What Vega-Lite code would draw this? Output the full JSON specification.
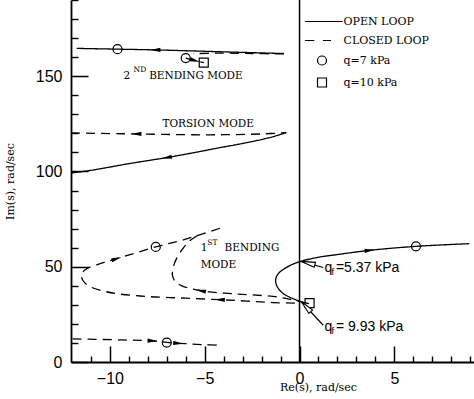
{
  "$schema": "https://vega.github.io/schema/vega-lite/v6.json",
  "width": 403,
  "height": 362,
  "autosize": {"type": "none"},
  "padding": {"left": 71, "top": 0, "right": 0, "bottom": 37},
  "background": "white",
  "config": {
    "view": {"stroke": null},
    "axis": {"grid": false, "ticks": true, "tickOpacity": 1, "tickDash": []}
  },
  "resolve": {"axis": {"x": "independent", "y": "independent"}},
  "datasets": {
    "curves": [
      {"curve": "b2_open", "loop": "OPEN LOOP", "i": 0, "re": -0.83, "im": 161.9},
      {"curve": "b2_open", "loop": "OPEN LOOP", "i": 1, "re": -3.0, "im": 162.5},
      {"curve": "b2_open", "loop": "OPEN LOOP", "i": 2, "re": -5.4, "im": 163.2},
      {"curve": "b2_open", "loop": "OPEN LOOP", "i": 3, "re": -7.6, "im": 163.8},
      {"curve": "b2_open", "loop": "OPEN LOOP", "i": 4, "re": -9.6, "im": 164.2},
      {"curve": "b2_open", "loop": "OPEN LOOP", "i": 5, "re": -11.75, "im": 164.6},

      {"curve": "b2_closed", "loop": "CLOSED LOOP", "i": 0, "re": -0.83, "im": 161.7},
      {"curve": "b2_closed", "loop": "CLOSED LOOP", "i": 1, "re": -2.5, "im": 161.9},
      {"curve": "b2_closed", "loop": "CLOSED LOOP", "i": 2, "re": -4.5, "im": 162.1},
      {"curve": "b2_closed", "loop": "CLOSED LOOP", "i": 3, "re": -5.6, "im": 161.8},
      {"curve": "b2_closed_end", "loop": "CLOSED LOOP", "i": 0, "re": -6.0, "im": 159.5},
      {"curve": "b2_closed_end", "loop": "CLOSED LOOP", "i": 1, "re": -5.05, "im": 157.1},

      {"curve": "tor_closed", "loop": "CLOSED LOOP", "i": 0, "re": -12.05, "im": 120.2},
      {"curve": "tor_closed", "loop": "CLOSED LOOP", "i": 1, "re": -10.0, "im": 119.9},
      {"curve": "tor_closed", "loop": "CLOSED LOOP", "i": 2, "re": -8.6, "im": 119.7},
      {"curve": "tor_closed", "loop": "CLOSED LOOP", "i": 3, "re": -6.0, "im": 119.3},
      {"curve": "tor_closed", "loop": "CLOSED LOOP", "i": 4, "re": -4.0, "im": 119.3},
      {"curve": "tor_closed", "loop": "CLOSED LOOP", "i": 5, "re": -2.0, "im": 119.7},
      {"curve": "tor_closed", "loop": "CLOSED LOOP", "i": 6, "re": -0.7, "im": 120.4},

      {"curve": "tor_open", "loop": "OPEN LOOP", "i": 0, "re": -12.05, "im": 99.2},
      {"curve": "tor_open", "loop": "OPEN LOOP", "i": 1, "re": -11.0, "im": 100.6},
      {"curve": "tor_open", "loop": "OPEN LOOP", "i": 2, "re": -9.0, "im": 104.1},
      {"curve": "tor_open", "loop": "OPEN LOOP", "i": 3, "re": -7.0, "im": 107.3},
      {"curve": "tor_open", "loop": "OPEN LOOP", "i": 4, "re": -5.5, "im": 110.0},
      {"curve": "tor_open", "loop": "OPEN LOOP", "i": 5, "re": -4.2, "im": 112.5},
      {"curve": "tor_open", "loop": "OPEN LOOP", "i": 6, "re": -2.9, "im": 114.9},
      {"curve": "tor_open", "loop": "OPEN LOOP", "i": 7, "re": -1.53, "im": 117.9},
      {"curve": "tor_open", "loop": "OPEN LOOP", "i": 8, "re": -0.7, "im": 120.4},

      {"curve": "b1_closed_a", "loop": "CLOSED LOOP", "i": 0, "re": -4.2, "im": 70.2},
      {"curve": "b1_closed_a", "loop": "CLOSED LOOP", "i": 1, "re": -5.96, "im": 64.6},
      {"curve": "b1_closed_a", "loop": "CLOSED LOOP", "i": 2, "re": -7.58, "im": 60.4},
      {"curve": "b1_closed_a", "loop": "CLOSED LOOP", "i": 3, "re": -9.65, "im": 54.2},
      {"curve": "b1_closed_a", "loop": "CLOSED LOOP", "i": 4, "re": -10.7, "im": 51.0},
      {"curve": "b1_closed_a", "loop": "CLOSED LOOP", "i": 5, "re": -11.25, "im": 48.8},
      {"curve": "b1_closed_a", "loop": "CLOSED LOOP", "i": 6, "re": -11.5, "im": 45.8},
      {"curve": "b1_closed_a", "loop": "CLOSED LOOP", "i": 7, "re": -11.4, "im": 42.5},
      {"curve": "b1_closed_a", "loop": "CLOSED LOOP", "i": 8, "re": -11.1, "im": 39.8},
      {"curve": "b1_closed_a", "loop": "CLOSED LOOP", "i": 9, "re": -10.4, "im": 37.4},
      {"curve": "b1_closed_a", "loop": "CLOSED LOOP", "i": 10, "re": -9.6, "im": 35.8},
      {"curve": "b1_closed_a", "loop": "CLOSED LOOP", "i": 11, "re": -7.9, "im": 34.3},
      {"curve": "b1_closed_a", "loop": "CLOSED LOOP", "i": 12, "re": -6.0, "im": 33.5},
      {"curve": "b1_closed_a", "loop": "CLOSED LOOP", "i": 13, "re": -4.2, "im": 32.7},
      {"curve": "b1_closed_a", "loop": "CLOSED LOOP", "i": 14, "re": -2.8, "im": 32.0},
      {"curve": "b1_closed_a", "loop": "CLOSED LOOP", "i": 15, "re": -1.4, "im": 31.2},
      {"curve": "b1_closed_a", "loop": "CLOSED LOOP", "i": 16, "re": 0.05, "im": 30.8},

      {"curve": "b1_closed_b", "loop": "CLOSED LOOP", "i": 0, "re": -5.4, "im": 66.3},
      {"curve": "b1_closed_b", "loop": "CLOSED LOOP", "i": 1, "re": -5.8, "im": 63.5},
      {"curve": "b1_closed_b", "loop": "CLOSED LOOP", "i": 2, "re": -6.2, "im": 58.9},
      {"curve": "b1_closed_b", "loop": "CLOSED LOOP", "i": 3, "re": -6.5, "im": 54.0},
      {"curve": "b1_closed_b", "loop": "CLOSED LOOP", "i": 4, "re": -6.65, "im": 50.0},
      {"curve": "b1_closed_b", "loop": "CLOSED LOOP", "i": 5, "re": -6.7, "im": 45.5},
      {"curve": "b1_closed_b", "loop": "CLOSED LOOP", "i": 6, "re": -6.55, "im": 42.3},
      {"curve": "b1_closed_b", "loop": "CLOSED LOOP", "i": 7, "re": -6.2, "im": 40.0},
      {"curve": "b1_closed_b", "loop": "CLOSED LOOP", "i": 8, "re": -5.2, "im": 37.4},
      {"curve": "b1_closed_b", "loop": "CLOSED LOOP", "i": 9, "re": -3.3, "im": 35.7},
      {"curve": "b1_closed_b", "loop": "CLOSED LOOP", "i": 10, "re": -1.4, "im": 34.4},
      {"curve": "b1_closed_b", "loop": "CLOSED LOOP", "i": 11, "re": -0.5, "im": 32.9},
      {"curve": "b1_closed_b", "loop": "CLOSED LOOP", "i": 12, "re": 0.05, "im": 31.6},

      {"curve": "b1_open", "loop": "OPEN LOOP", "i": 0, "re": 0.5, "im": 30.6},
      {"curve": "b1_open", "loop": "OPEN LOOP", "i": 1, "re": -0.18, "im": 32.6},
      {"curve": "b1_open", "loop": "OPEN LOOP", "i": 2, "re": -0.88, "im": 36.1},
      {"curve": "b1_open", "loop": "OPEN LOOP", "i": 3, "re": -1.2, "im": 40.0},
      {"curve": "b1_open", "loop": "OPEN LOOP", "i": 4, "re": -1.26, "im": 43.2},
      {"curve": "b1_open", "loop": "OPEN LOOP", "i": 5, "re": -1.15, "im": 46.0},
      {"curve": "b1_open", "loop": "OPEN LOOP", "i": 6, "re": -0.88, "im": 48.4},
      {"curve": "b1_open", "loop": "OPEN LOOP", "i": 7, "re": -0.45, "im": 50.9},
      {"curve": "b1_open", "loop": "OPEN LOOP", "i": 8, "re": 0.05, "im": 52.8},
      {"curve": "b1_open", "loop": "OPEN LOOP", "i": 9, "re": 1.0, "im": 55.0},
      {"curve": "b1_open", "loop": "OPEN LOOP", "i": 10, "re": 1.93, "im": 56.3},
      {"curve": "b1_open", "loop": "OPEN LOOP", "i": 11, "re": 3.7, "im": 58.6},
      {"curve": "b1_open", "loop": "OPEN LOOP", "i": 12, "re": 6.14, "im": 60.7},
      {"curve": "b1_open", "loop": "OPEN LOOP", "i": 13, "re": 8.95, "im": 62.1},

      {"curve": "low_closed", "loop": "CLOSED LOOP", "i": 0, "re": -11.96, "im": 12.1},
      {"curve": "low_closed", "loop": "CLOSED LOOP", "i": 1, "re": -9.4, "im": 11.6},
      {"curve": "low_closed", "loop": "CLOSED LOOP", "i": 2, "re": -7.75, "im": 11.1},
      {"curve": "low_closed", "loop": "CLOSED LOOP", "i": 3, "re": -7.0, "im": 10.3},
      {"curve": "low_closed", "loop": "CLOSED LOOP", "i": 4, "re": -6.0, "im": 9.6},
      {"curve": "low_closed", "loop": "CLOSED LOOP", "i": 5, "re": -5.0, "im": 9.1},
      {"curve": "low_closed", "loop": "CLOSED LOOP", "i": 6, "re": -4.33, "im": 8.9}
    ],
    "imagaxis": [
      {"re": 0}
    ],
    "markers": [
      {"q": "q=7 kPa", "re": -9.6, "im": 164.2},
      {"q": "q=7 kPa", "re": -6.0, "im": 159.5},
      {"q": "q=7 kPa", "re": -7.58, "im": 60.4},
      {"q": "q=7 kPa", "re": -7.0, "im": 10.2},
      {"q": "q=7 kPa", "re": 6.14, "im": 60.7},
      {"q": "q=10 kPa", "re": -5.05, "im": 157.1},
      {"q": "q=10 kPa", "re": 0.53, "im": 30.9}
    ],
    "flow": [
      {"re": -7.6, "im": 163.8, "heading": 180},
      {"re": -5.5, "im": 158.2, "heading": 15},
      {"re": -8.6, "im": 119.7, "heading": 180},
      {"re": -7.0, "im": 107.3, "heading": 170},
      {"re": -9.65, "im": 54.2, "heading": -17},
      {"re": -5.2, "im": 37.4, "heading": 192},
      {"re": -4.2, "im": 32.7, "heading": 183},
      {"re": -7.75, "im": 11.1, "heading": 3},
      {"re": -6.4, "im": 9.8, "heading": 5},
      {"re": 3.7, "im": 58.6, "heading": -6}
    ],
    "callouts": [
      {"re": 0.09, "im": 52.8, "re2": 1.25, "im2": 49.6, "hre": 0.45, "him": 51.9, "heading": 14, "qre": 1.32, "sre": 1.68, "rre": 1.92, "tim": 49.3, "sim": 47.0, "rest": "=5.37 kPa"},
      {"re": 0.09, "im": 31.7, "re2": 1.25, "im2": 19.3, "hre": 0.34, "him": 29.05, "heading": 47, "qre": 1.32, "sre": 1.68, "rre": 1.92, "tim": 18.6, "sim": 16.3, "rest": "= 9.93 kPa"}
    ],
    "modes": [
      {"re": -9.28, "im": 150.2, "t": "2"},
      {"re": -7.93, "im": 150.2, "t": "BENDING MODE"},
      {"re": -7.23, "im": 124.7, "t": "TORSION MODE"},
      {"re": -5.21, "im": 59.8, "t": "1"},
      {"re": -3.95, "im": 59.8, "t": "BENDING"},
      {"re": -5.21, "im": 51.0, "t": "MODE"}
    ],
    "supers": [
      {"re": -8.75, "im": 153.0, "t": "ND"},
      {"re": -4.86, "im": 62.6, "t": "ST"}
    ]
  },
  "layer": [
    {
      "data": {"name": "curves"},
      "mark": {"type": "line", "interpolate": "catmull-rom", "color": "black", "strokeWidth": 1.3, "clip": true},
      "encoding": {
        "x": {
          "field": "re", "type": "quantitative",
          "scale": {"domain": [-12.05, 9.2], "nice": false, "zero": false},
          "axis": {
            "orient": "bottom", "zindex": 1, "ticks": true,
            "title": "Re(s), rad/sec",
            "values": [-10, -5, 0, 5],
            "tickSize": -16,
            "tickColor": "black", "tickWidth": 1.5,
            "domainColor": "black", "domainWidth": 1.8,
            "labelPadding": 24, "labelFlush": false, "labelOverlap": false,
            "labelFont": "Liberation Sans", "labelFontSize": 16, "labelColor": "black",
            "titleFont": "DejaVu Serif", "titleFontSize": 11, "titleFontWeight": "normal", "titleColor": "black",
            "titleX": 247, "titleY": 19, "titleAlign": "center", "titleBaseline": "top"
          }
        },
        "y": {
          "field": "im", "type": "quantitative",
          "scale": {"domain": [0, 190], "nice": false, "zero": false},
          "axis": {
            "orient": "left", "zindex": 1, "ticks": true,
            "title": "Im(s), rad/sec",
            "values": [0, 50, 100, 150],
            "tickSize": -17,
            "tickColor": "black", "tickWidth": 1.5,
            "domainColor": "black", "domainWidth": 1.8,
            "labelPadding": 26, "labelFlush": false, "labelOverlap": false,
            "labelFont": "Liberation Sans", "labelFontSize": 16, "labelColor": "black",
            "titleFont": "DejaVu Serif", "titleFontSize": 11, "titleFontWeight": "normal", "titleColor": "black",
            "titlePadding": 20
          }
        },
        "detail": {"field": "curve"},
        "order": {"field": "i", "type": "quantitative"},
        "strokeDash": {
          "field": "loop", "type": "nominal",
          "scale": {"domain": ["OPEN LOOP", "CLOSED LOOP"], "range": [[1, 0], [9, 6]]},
          "legend": null
        }
      }
    },
    {
      "data": {"name": "imagaxis"},
      "mark": {"type": "rule", "color": "black", "strokeWidth": 1.5},
      "encoding": {
        "x": {
          "field": "re", "type": "quantitative",
          "axis": {
            "orient": "bottom", "zindex": 1, "ticks": true, "title": null, "labels": false, "domain": false,
            "values": [-11, -9, -8, -7, -6, -4, -3, -2, -1, 1, 2, 3, 4, 6, 7, 8, 9],
            "tickSize": -6, "tickColor": "black", "tickWidth": 1.4
          }
        }
      }
    },
    {
      "data": {"name": "markers"},
      "mark": {"type": "point", "filled": false, "color": "black", "strokeWidth": 1.2, "size": 81, "opacity": 1},
      "encoding": {
        "x": {"field": "re", "type": "quantitative", "axis": null},
        "y": {
          "field": "im", "type": "quantitative",
          "axis": {
            "orient": "left", "zindex": 1, "ticks": true, "title": null, "labels": false, "domain": false,
            "values": [10, 20, 30, 40, 60, 70, 80, 90, 110, 120, 130, 140, 160, 170, 180, 190],
            "tickSize": -7, "tickColor": "black", "tickWidth": 1.4
          }
        },
        "shape": {
          "field": "q", "type": "nominal",
          "scale": {
            "domain": ["OPEN LOOP", "CLOSED LOOP", "q=7 kPa", "q=10 kPa"],
            "range": ["M-3.8,0L4.6,0", "M-3.8,0L-1.7,0M0.2,0L2,0", "circle", "square"]
          },
          "legend": {
            "orient": "none", "legendX": 245.5, "legendY": 16,
            "title": null, "padding": 0,
            "labelFont": "DejaVu Serif", "labelFontSize": 11, "labelColor": "black",
            "labelOffset": 16, "rowPadding": 7,
            "symbolSize": 81, "symbolStrokeColor": "black", "symbolFillColor": "transparent",
            "symbolStrokeWidth": 1.2, "symbolOpacity": 1
          }
        }
      }
    },
    {
      "data": {"name": "flow"},
      "mark": {"type": "point", "shape": "M1,0L-1,-0.42L-1,0.42Z", "filled": true, "color": "black", "size": 100, "opacity": 1},
      "encoding": {
        "x": {"field": "re", "type": "quantitative", "axis": null},
        "y": {"field": "im", "type": "quantitative", "axis": null},
        "angle": {"field": "heading", "type": "quantitative", "scale": null}
      }
    },
    {
      "data": {"name": "callouts"},
      "mark": {"type": "rule", "color": "black", "strokeWidth": 1.2},
      "encoding": {
        "x": {"field": "re", "type": "quantitative", "axis": null},
        "y": {"field": "im", "type": "quantitative", "axis": null},
        "x2": {"field": "re2"},
        "y2": {"field": "im2"}
      }
    },
    {
      "data": {"name": "callouts"},
      "mark": {"type": "point", "shape": "M-1,0L1,-0.36L1,0.36Z", "filled": true, "fill": "white", "stroke": "black", "strokeWidth": 1.1, "size": 196, "opacity": 1},
      "encoding": {
        "x": {"field": "hre", "type": "quantitative", "axis": null},
        "y": {"field": "him", "type": "quantitative", "axis": null},
        "angle": {"field": "heading", "type": "quantitative", "scale": null}
      }
    },
    {
      "data": {"name": "callouts"},
      "mark": {"type": "text", "text": "q", "align": "left", "baseline": "middle", "font": "Liberation Sans", "fontSize": 14, "color": "black"},
      "encoding": {
        "x": {"field": "qre", "type": "quantitative", "axis": null},
        "y": {"field": "tim", "type": "quantitative", "axis": null}
      }
    },
    {
      "data": {"name": "callouts"},
      "mark": {"type": "text", "text": "f", "align": "left", "baseline": "middle", "font": "Liberation Sans", "fontSize": 9, "color": "black"},
      "encoding": {
        "x": {"field": "sre", "type": "quantitative", "axis": null},
        "y": {"field": "sim", "type": "quantitative", "axis": null}
      }
    },
    {
      "data": {"name": "callouts"},
      "mark": {"type": "text", "align": "left", "baseline": "middle", "font": "Liberation Sans", "fontSize": 14, "color": "black"},
      "encoding": {
        "x": {"field": "rre", "type": "quantitative", "axis": null},
        "y": {"field": "tim", "type": "quantitative", "axis": null},
        "text": {"field": "rest"}
      }
    },
    {
      "data": {"name": "modes"},
      "mark": {"type": "text", "align": "left", "baseline": "middle", "font": "DejaVu Serif", "fontSize": 10.5, "color": "black"},
      "encoding": {
        "x": {"field": "re", "type": "quantitative", "axis": null},
        "y": {"field": "im", "type": "quantitative", "axis": null},
        "text": {"field": "t"}
      }
    },
    {
      "data": {"name": "supers"},
      "mark": {"type": "text", "align": "left", "baseline": "middle", "font": "DejaVu Serif", "fontSize": 7.5, "color": "black"},
      "encoding": {
        "x": {"field": "re", "type": "quantitative", "axis": null},
        "y": {"field": "im", "type": "quantitative", "axis": null},
        "text": {"field": "t"}
      }
    }
  ]
}
